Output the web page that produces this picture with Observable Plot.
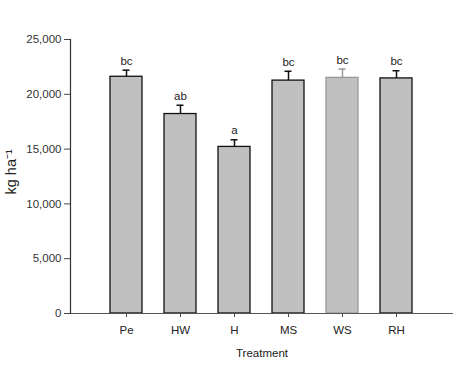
<!DOCTYPE html>
<html>
<head>
<meta charset="utf-8">
<script src="https://cdn.jsdelivr.net/npm/d3@7"></script>
<script src="https://cdn.jsdelivr.net/npm/@observablehq/plot@0.6"></script>
<style>
  body { margin: 0; background: #fff; }
  svg { font-family: "Liberation Sans", Arial, sans-serif; }
</style>
</head>
<body>
<div id="chart"></div>
<script>
const treatments = ["Pe", "HW", "H", "MS", "WS", "RH"];
const yields = [21600, 18200, 15200, 21250, 21500, 21450];
const errors = [600, 800, 650, 850, 800, 700];
const letters = ["bc", "ab", "a", "bc", "bc", "bc"];
const yTicks = [0, 5000, 10000, 15000, 20000, 25000];

const data = treatments.map((t, i) => ({
  t, v: yields[i], e: errors[i], top: yields[i] + errors[i], lab: letters[i],
  stroke: t === "WS" ? "#9a9a9a" : "#111111"
}));

const chart = Plot.plot({
  width: 474,
  height: 386,
  marginLeft: 70,
  marginRight: 21,
  marginTop: 39,
  marginBottom: 73,
  style: { fontFamily: "Liberation Sans, Arial, sans-serif", fontSize: "11px", color: "#222", background: "#fff" },
  x: { domain: treatments, paddingInner: 0.4, paddingOuter: 0.7, label: null },
  y: { domain: [0, 25000], label: null },
  marks: [
    Plot.barY(data, { x: "t", y: "v", fill: "#c0c0c0", stroke: "stroke", strokeWidth: 1.3 }),
    Plot.ruleX(data, { x: "t", y1: "v", y2: "top", stroke: "stroke", strokeWidth: 1.5 }),
    Plot.tickY(data, { x: "t", y: "top", stroke: "stroke", strokeWidth: 1.5, insetLeft: 12.5, insetRight: 12.5 }),
    Plot.text(data, { x: "t", y: "top", text: "lab", dy: -9, fontSize: 11.5, fill: "#222" }),
    Plot.axisY({ ticks: yTicks, tickFormat: d3.format(","), tickSize: 6, tickPadding: 3, label: null, stroke: "#444", fill: "#333", fontSize: 11.5 }),
    Plot.axisX({ tickSize: 4, tickPadding: 8, label: null, stroke: "#444", fill: "#222", fontSize: 11.5 }),
    Plot.ruleY([0], { stroke: "#555", strokeWidth: 1.2 }),
    Plot.frame({ anchor: "left", stroke: "#333", strokeWidth: 1.2 }),
    Plot.text(["Treatment"], { frameAnchor: "bottom", dy: 43, fontSize: 11.5, fill: "#222" }),
    Plot.text(["kg ha\u207B\u00B9"], { frameAnchor: "left", dx: -59, dy: 18, rotate: -90, fontSize: 14.5, fill: "#222" })
  ]
});
document.getElementById("chart").appendChild(chart);
</script>
</body>
</html>
